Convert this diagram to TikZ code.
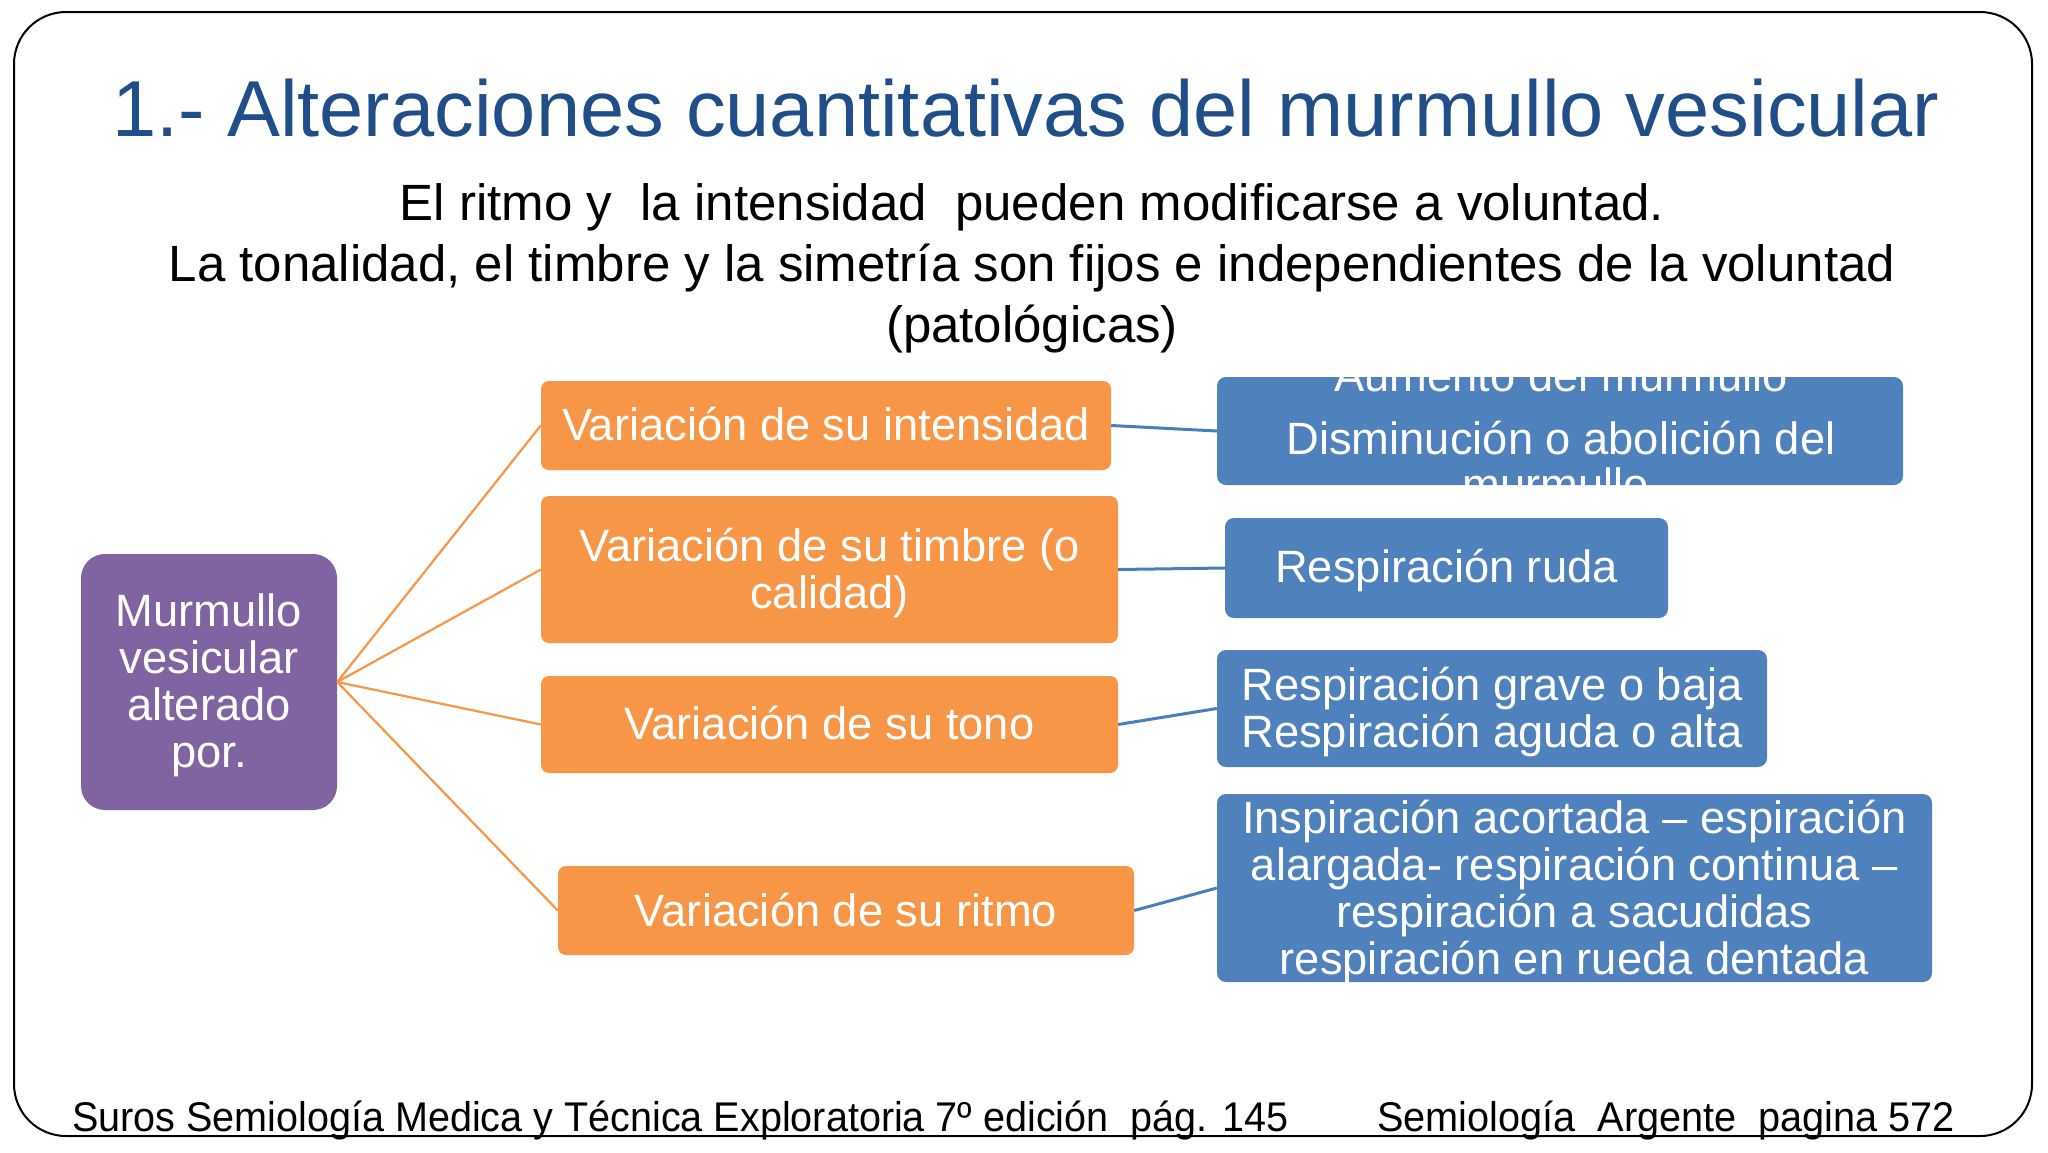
\documentclass[tikz,border=0pt]{standalone}
\usepackage{graphicx}
\usepackage{fontspec}
\setmainfont{Liberation Sans}
\definecolor{titleblue}{HTML}{1F4E89}
\definecolor{orangebox}{HTML}{F79646}
\definecolor{purplebox}{HTML}{8064A2}
\definecolor{bluebox}{HTML}{4F81BD}
\definecolor{blueline}{HTML}{4A7EBB}
\begin{document}
\begin{tikzpicture}[x=1pt,y=-1pt,
  boxtext/.style={text=white,align=center,font=\fontsize{45.3}{47}\selectfont,inner sep=0pt},
  obox/.style={fill=orangebox,rounded corners=8pt,inner sep=0pt},
  bbox/.style={fill=bluebox,rounded corners=9pt,inner sep=0pt},
  pbox/.style={fill=purplebox,rounded corners=24pt,inner sep=0pt},
  oline/.style={draw=orangebox,line width=2.2pt},
  bline/.style={draw=blueline,line width=3pt},
  foot/.style={anchor=base west,inner sep=0pt,font=\fontsize{41.5}{48}\selectfont},
  subt/.style={anchor=base,inner sep=0pt,font=\fontsize{51}{61}\selectfont}]
\useasboundingbox (0,0) rectangle (2048,1152);
\fill[white] (0,0) rectangle (2048,1152);
\draw[black,line width=2pt,rounded corners=52pt] (14,12) rectangle (2032,1136);

% title and subtitle
\node[anchor=base,inner sep=0pt,text=titleblue,font=\fontsize{79.4}{90}\selectfont] (title) at (1026,136) {1.- Alteraciones cuantitativas del murmullo vesicular};
\node[subt] (sub1) at (1032,220) {El ritmo y\ \ la intensidad\ \ pueden modificarse a voluntad.};
\node[subt] (sub2) at (1032,281) {La tonalidad, el timbre y la simetría son fijos e independientes de la voluntad};
\node[subt] (sub3) at (1032,342) {(patológicas)};

% boxes
\node[pbox,minimum width=256pt,minimum height=256pt] (p) at (209,682) {};
\node[boxtext,yshift=-3pt] (pt) at (p.center) {Murmullo\\vesicular\\alterado\\por.};
\node[obox,minimum width=570pt,minimum height=89pt] (o1) at (826,425.5) {};
\node[boxtext,yshift=1pt] (o1t) at (o1.center) {Variación de su intensidad};
\node[obox,minimum width=577pt,minimum height=147pt] (o2) at (829.5,569.5) {};
\node[boxtext,yshift=-3pt] (o2t) at (o2.center) {Variación de su timbre (o\\calidad)};
\node[obox,minimum width=577pt,minimum height=97pt] (o3) at (829.5,724.5) {};
\node[boxtext,yshift=1pt] (o3t) at (o3.center) {Variación de su tono};
\node[obox,minimum width=576pt,minimum height=89pt] (o4) at (846,910.5) {};
\node[boxtext] (o4t) at (o4.center) {Variación de su ritmo};

\node[bbox,minimum width=686pt,minimum height=108pt] (b1) at (1560,431) {};
\begin{scope}
\clip (b1.north west) rectangle (b1.south east);
\node[boxtext,anchor=base] (b1a) at (1561,391) {Aumento del murmullo};
\node[boxtext,anchor=base] (b1b) at (1561,454) {Disminución o abolición del};
\node[boxtext,anchor=base] (b1c) at (1556,500) {murmullo};
\end{scope}
\node[bbox,minimum width=443pt,minimum height=100pt] (b2) at (1446.5,568) {};
\node[boxtext,yshift=-3pt] (b2t) at (b2.center) {Respiración ruda};
\node[bbox,minimum width=550pt,minimum height=117pt] (b3) at (1492,708.5) {};
\node[boxtext,yshift=-4pt] (b3t) at (b3.center) {Respiración grave o baja\\Respiración aguda o alta};
\node[bbox,minimum width=715pt,minimum height=188pt] (b4) at (1574.5,888) {};
\node[boxtext,yshift=-4pt] (b4t) at (b4.center) {Inspiración acortada – espiración\\alargada- respiración continua –\\respiración a sacudidas\\respiración en rueda dentada};

% connectors
\draw[oline] (p.east) -- (o1.west);
\draw[oline] (p.east) -- (o2.west);
\draw[oline] (p.east) -- (o3.west);
\draw[oline] (p.east) -- (o4.west);
\draw[bline] (o1.east) -- (b1.west);
\draw[bline] (o2.east) -- (b2.west);
\draw[bline] (o3.east) -- (b3.west);
\draw[bline] (o4.east) -- (b4.west);

% footer
\node[foot] (f1) at (72,1131) {\scalebox{0.953}[1]{Suros Semiología Medica y Técnica Exploratoria 7º edición\ \ pág. 145}};
\node[foot] (f2) at (1377,1131) {\scalebox{0.956}[1]{Semiología\ \ Argente\ \ pagina 572}};
\end{tikzpicture}
\end{document}
